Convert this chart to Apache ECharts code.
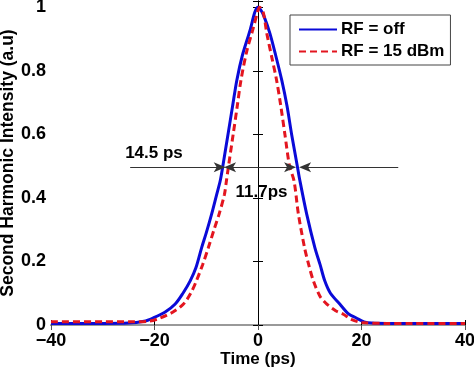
<!DOCTYPE html>
<html>
<head>
<meta charset="utf-8">
<script src="https://cdn.jsdelivr.net/npm/echarts@6/dist/echarts.min.js"></script>
<style>
html,body{margin:0;padding:0;background:#fff;}
#chart{width:474px;height:370px;}
</style>
</head>
<body>
<div id="chart"></div>
<script>
// ---- data ----
const seriesNames = ['RF = off', 'RF = 15 dBm'];
const xTicks = [-40, -20, 0, 20, 40];
const yTicks = [0, 0.2, 0.4, 0.6, 0.8, 1];

const offTime = [-40,-30,-25,-22,-20.3,-18,-16,-14.5,-13.1,-12,-10.9,-10,-8.95,-8,-7.3,-6.8,-5.8,-4.9,-4.1,-3.0,-1.5,-0.6,0,0.6,1.2,2.3,3.4,4.6,5.6,6.5,7.6,8.1,9.4,11.0,12.0,12.9,14.0,15.8,17.5,19.0,20.5,22,25,30,40];
const offValue = [0.005,0.005,0.006,0.012,0.022,0.04,0.066,0.1,0.139,0.18,0.243,0.29,0.35,0.41,0.454,0.5,0.6,0.69,0.77,0.85,0.93,0.985,1.0,0.99,0.97,0.918,0.85,0.77,0.69,0.6,0.5,0.454,0.35,0.243,0.19,0.139,0.1,0.066,0.035,0.022,0.01,0.006,0.005,0.005,0.005];

const rfTime = [-40,-30,-24,-21,-18.9,-16.5,-14.4,-13,-11.9,-10.7,-9.6,-8.5,-7.5,-6.5,-6.1,-5.7,-4.8,-4.0,-3.3,-2.2,-1.0,0,0.3,1.0,1.7,2.7,3.6,4.4,5.2,6.1,6.96,7.8,9.0,9.8,10.7,12,13.3,15,16.5,18,20,25,30,40];
const rfValue = [0.01,0.01,0.01,0.012,0.022,0.04,0.066,0.1,0.139,0.19,0.243,0.3,0.35,0.41,0.454,0.5,0.6,0.69,0.77,0.86,0.93,0.99,1.0,0.985,0.918,0.84,0.77,0.69,0.6,0.5,0.454,0.35,0.243,0.19,0.139,0.09,0.066,0.045,0.034,0.018,0.008,0.005,0.005,0.005];

// annotations (data coordinates)
const halfLevel = 0.497;
const leftArrow = [-24.7, -7.4];
const innerArrow = [-5.4, 6.2];
const rightArrow = [27.1, 9.1];
const labelWide = {text: '14.5 ps', t: -20.1, v: 0.539};
const labelNarrow = {text: '11.7ps', t: 0.68, v: 0.418};

const zip = (a, b) => a.map((x, i) => [x, b[i]]);
const FONT = '"Liberation Sans", Arial, sans-serif';
const arrowPath = 'path://M5,0 L10,12 L5,9 L0,12 Z';

const chart = echarts.init(document.getElementById('chart'));
chart.setOption({
  animation: false,
  backgroundColor: '#fff',
  grid: {left: 51, right: 9, top: 1, bottom: 45, containLabel: false, outerBoundsMode: 'none'},
  legend: {
    orient: 'vertical', left: 290, top: 15,
    padding: [6, 6, 5, 8], itemGap: 5, itemWidth: 38, itemHeight: 14,
    backgroundColor: '#fff', borderColor: '#444', borderWidth: 1,
    itemStyle: {opacity: 0},
    textStyle: {fontFamily: FONT, fontWeight: 'bold', fontSize: 17, color: '#000', padding: [0,0,0,-1]},
    data: seriesNames
  },
  xAxis: [{
    type: 'value', min: xTicks[0], max: xTicks[xTicks.length-1], interval: 20,
    axisLine: {show: true, lineStyle: {color: '#000', width: 1}},
    axisTick: {inside: true, length: 5, lineStyle: {color: '#000'}},
    splitLine: {show: false},
    axisLabel: {fontFamily: FONT, fontWeight: 'bold', fontSize: 18, color: '#000', margin: 7,
      formatter: v => xTicks.includes(v) ? String(v).replace('-', '\u2212') : ''},
    name: 'Time (ps)', nameLocation: 'middle', nameGap: 26, nameMoveOverlap: false,
    nameTextStyle: {fontFamily: FONT, fontWeight: 'bold', fontSize: 17, color: '#000'}
  }, {
    type: 'value', position: 'top', min: -40, max: 40, interval: 20,
    axisLine: {show: true, lineStyle: {color: '#999', width: 2}},
    axisTick: {inside: true, length: 5, lineStyle: {color: '#555'}},
    axisLabel: {show: false}, splitLine: {show: false}
  }],
  yAxis: [{
    type: 'value', min: 0, max: 1.02, interval: 0.2,
    axisLine: {show: true, lineStyle: {color: '#000', width: 1}},
    axisTick: {inside: true, length: 5, lineStyle: {color: '#000'}},
    splitLine: {show: false},
    axisLabel: {fontFamily: FONT, fontWeight: 'bold', fontSize: 18, color: '#000', margin: 5,
      formatter: v => yTicks.some(t => Math.abs(t - v) < 1e-6) ? String(+v.toFixed(1)) : ''},
    name: 'Second Harmonic Intensity (a.u)', nameLocation: 'middle', nameGap: 34, nameMoveOverlap: false,
    nameTextStyle: {fontFamily: FONT, fontWeight: 'bold', fontSize: 17.5, color: '#000'}
  }, {
    type: 'value', position: 'right', min: 0, max: 1.02, interval: 0.2,
    axisLine: {show: true, lineStyle: {color: '#000', width: 1}},
    axisTick: {inside: true, length: 5, lineStyle: {color: '#000'}},
    axisLabel: {show: false}, splitLine: {show: false}
  }],
  series: [{
    name: seriesNames[0], type: 'line', data: zip(offTime, offValue),
    symbol: 'none', smooth: 0.3,
    lineStyle: {color: '#0a0ad8', width: 3},
    itemStyle: {color: '#0a0ad8'},
    markLine: {
      silent: true, animation: false,
      symbol: ['none', arrowPath], symbolSize: [10, 12],
      lineStyle: {color: '#333', width: 1, type: 'solid'},
      label: {show: false},
      data: [
        [{coord: [leftArrow[0], halfLevel]}, {coord: [leftArrow[1], halfLevel]}],
        [{coord: [innerArrow[0], halfLevel], symbol: arrowPath}, {coord: [innerArrow[1], halfLevel]}],
        [{coord: [rightArrow[0], halfLevel]}, {coord: [rightArrow[1], halfLevel]}]
      ]
    },
    markPoint: {
      silent: true, animation: false,
      symbol: 'circle', symbolSize: 0,
      label: {show: true, position: 'inside', fontFamily: FONT, fontWeight: 'bold', fontSize: 17, color: '#000',
        formatter: p => p.name},
      data: [
        {name: labelWide.text, coord: [labelWide.t, labelWide.v]},
        {name: labelNarrow.text, coord: [labelNarrow.t, labelNarrow.v]}
      ]
    }
  }, {
    name: seriesNames[1], type: 'line', data: zip(rfTime, rfValue),
    symbol: 'none', smooth: 0.3,
    lineStyle: {color: '#e3151f', width: 3, type: [7, 4]},
    itemStyle: {color: '#e3151f'}
  }]
});
</script>
</body>
</html>
